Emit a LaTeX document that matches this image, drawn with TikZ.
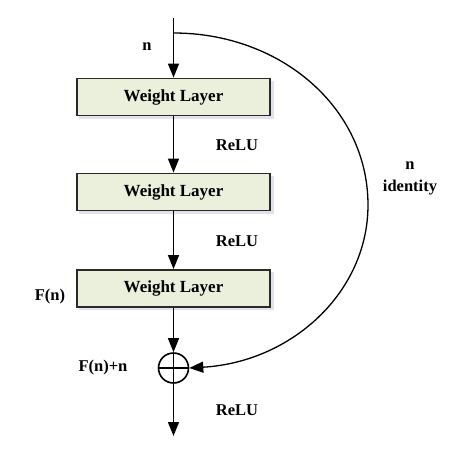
\documentclass[tikz,border=0pt]{standalone}
\usepackage{fontspec}
\setmainfont{Liberation Serif}
\usetikzlibrary{arrows.meta}
\definecolor{boxfill}{HTML}{EBF0DD}
\definecolor{boxline}{HTML}{2A2A2A}
\definecolor{shadowc}{HTML}{E2E2EE}
\begin{document}
\begin{tikzpicture}[x=1pt,y=-1pt,
  lbl/.style={font=\fontsize{16.5}{19}\selectfont\bfseries, inner sep=0pt},
  wbox/.style={draw=boxline, line width=1.8pt, fill=boxfill, minimum width=193pt, minimum height=37pt, inner sep=0pt, font=\fontsize{17}{19}\selectfont\bfseries},
  conn/.style={line width=1.3pt, -{Triangle[length=14pt,width=11pt]}},
  plainline/.style={line width=1.3pt}]
\useasboundingbox (0,0) rectangle (474,455);
% shadows
\fill[shadowc] (79,81) rectangle (274,119);
\fill[shadowc] (79,176) rectangle (274,214);
\fill[shadowc] (79,272) rectangle (274,310);
\node[wbox] (w1) at (173.5,97) {Weight Layer};
\node[wbox] (w2) at (173.5,192) {Weight Layer};
\node[wbox] (w3) at (173.5,288.5) {Weight Layer};
\node[draw, circle, line width=1.6pt, minimum size=30pt, inner sep=0pt] (sum) at (173.5,368) {};
\draw[line width=1.4pt] ([yshift=-1.5pt]sum.north) -- ([yshift=1.5pt]sum.south) ([xshift=1.5pt]sum.west) -- ([xshift=-1.5pt]sum.east);
\coordinate (top) at (173.5,18);
\coordinate (split) at (173.5,33);
\coordinate (out) at (173.5,436);
\draw[plainline] (top) -- (split);
\draw[conn] (split) -- (w1.north);
\draw[conn] (w1.south) -- (w2.north);
\draw[conn] (w2.south) -- (w3.north);
\draw[conn] (w3.south) -- (sum.north);
\draw[conn] (sum.south) -- (out);
\draw[conn] (split) .. controls (281,33) and (368,108) .. (368,205)
  .. controls (368,292) and (292,362) .. (sum.east);
\node[lbl] (ln) at (147,47) {n};
\node[lbl] (lr1) at (237,145) {ReLU};
\node[lbl] (lr2) at (237,241) {ReLU};
\node[lbl] (lf) at (50,297) {F(n)};
\node[lbl] (lfn) at (103,368) {F(n)+n};
\node[lbl] (lr3) at (237,410) {ReLU};
\node[lbl] (ln2) at (410,166) {n};
\node[lbl] (lid) at (410,188) {identity};
\end{tikzpicture}
\end{document}
